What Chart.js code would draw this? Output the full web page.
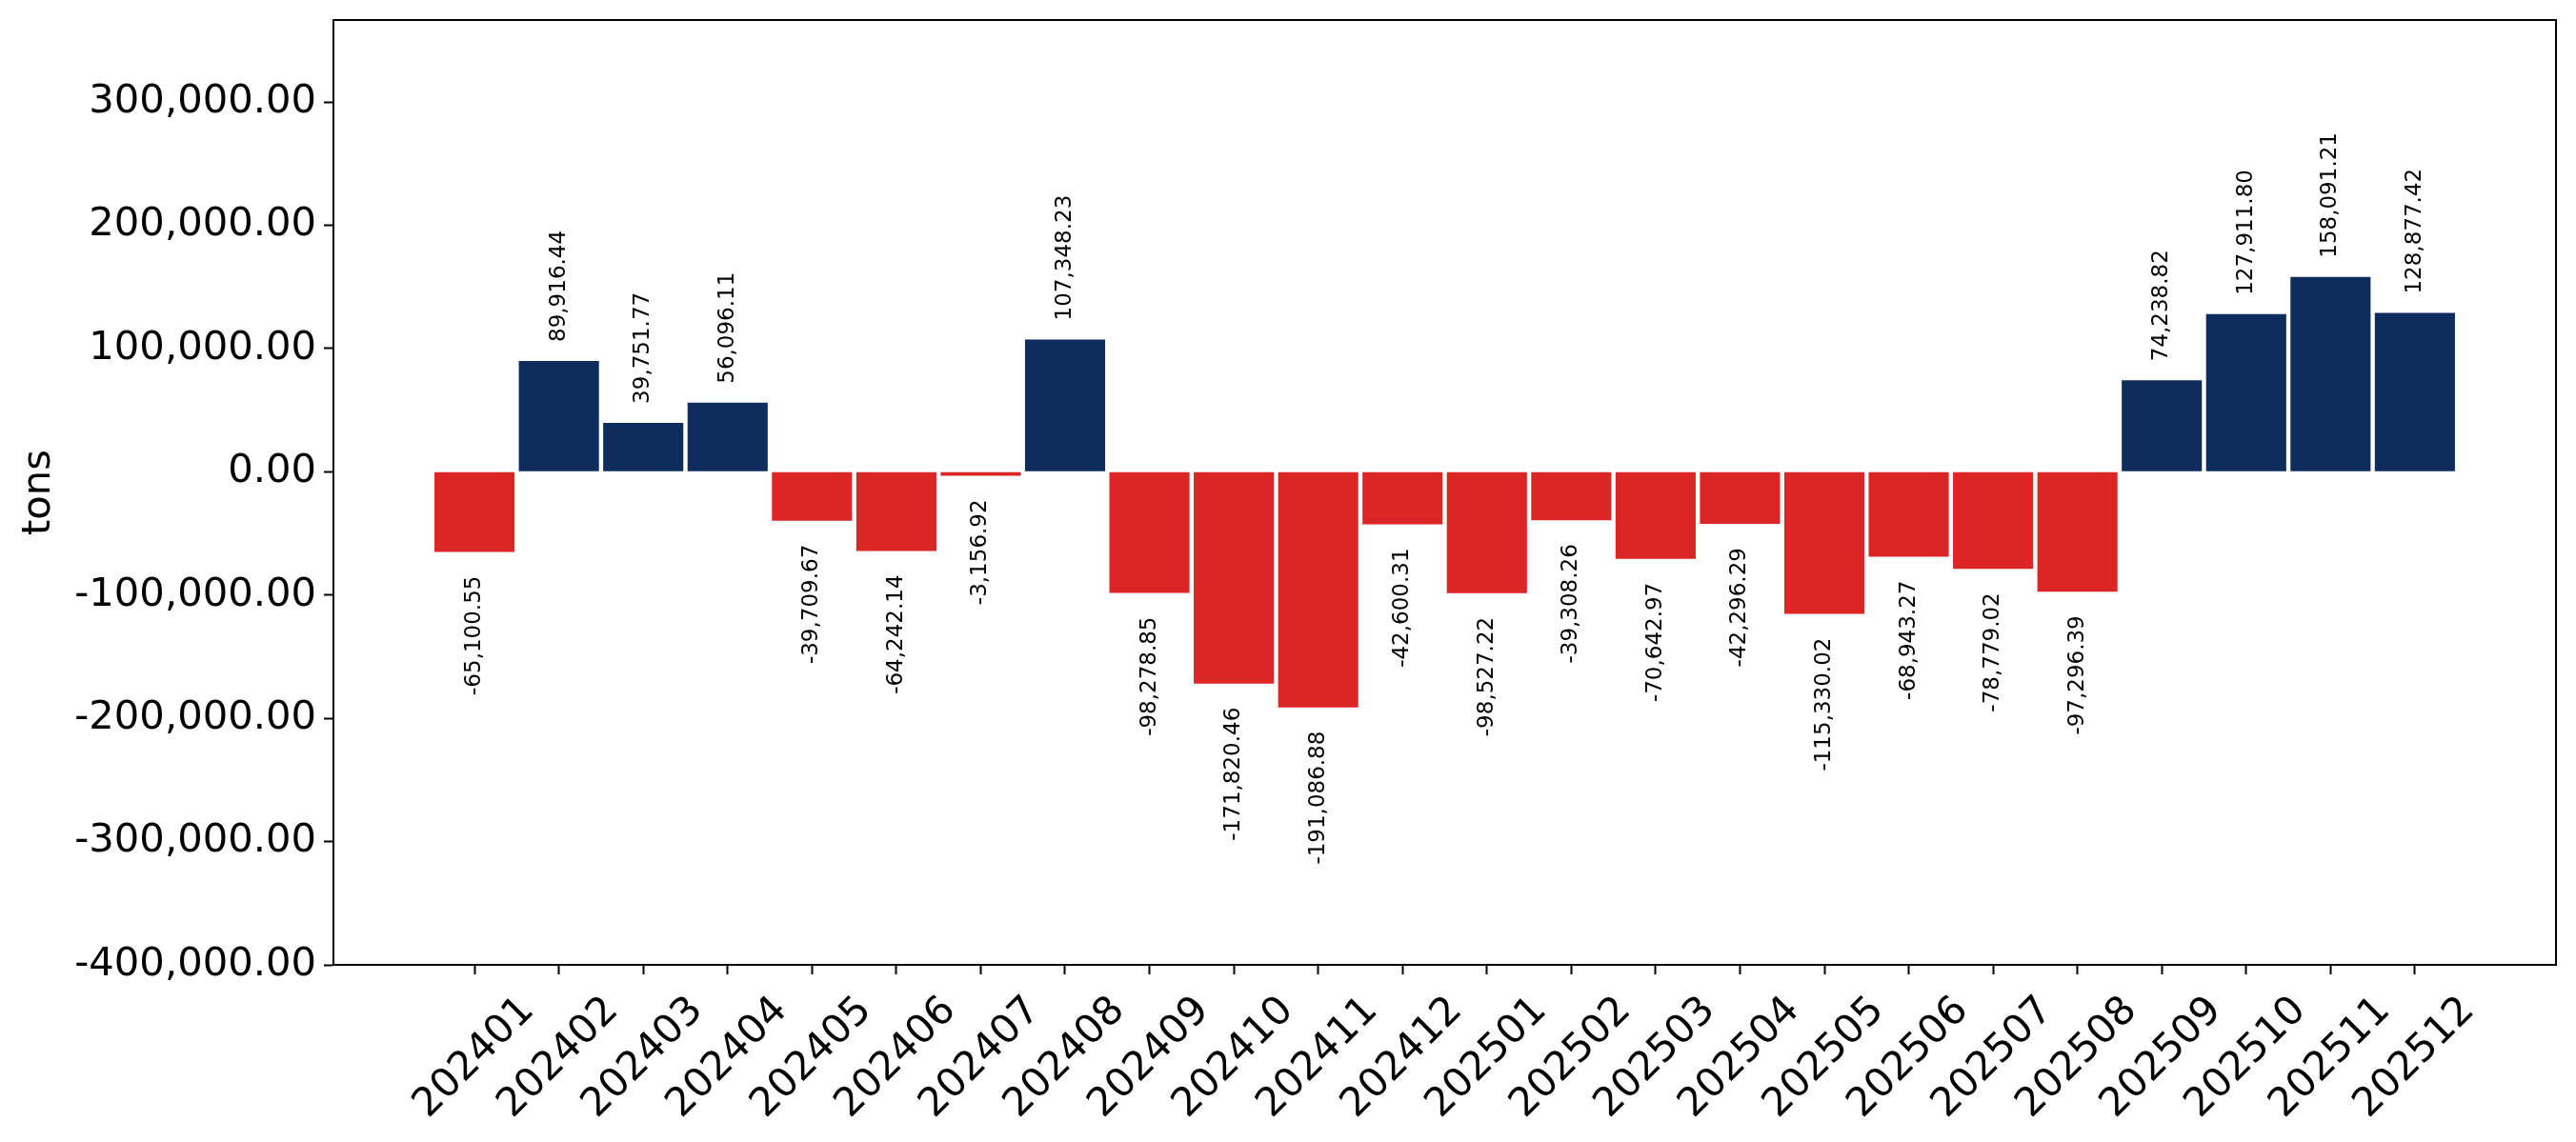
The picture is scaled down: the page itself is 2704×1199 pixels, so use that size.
<!DOCTYPE html>
<html>
<head>
<meta charset="utf-8">
<title>Monthly net tons</title>
<script src="https://cdn.jsdelivr.net/npm/chart.js@4/dist/chart.umd.min.js"></script>
<style>
  html, body { margin: 0; padding: 0; background: #fff; }
  canvas { display: block; }
</style>
</head>
<body>
<canvas id="netChart" width="2704" height="1199"></canvas>
<script>
// data
const months = ['202401', '202402', '202403', '202404', '202405', '202406', '202407', '202408',
    '202409', '202410', '202411', '202412', '202501', '202502', '202503', '202504',
    '202505', '202506', '202507', '202508', '202509', '202510', '202511', '202512'];
const netValues = [-65100.55, 89916.44, 39751.77, 56096.11, -39709.67, -64242.14, -3156.92, 107348.23,
    -98278.85, -171820.46, -191086.88, -42600.31, -98527.22, -39308.26, -70642.97, -42296.29,
    -115330.02, -68943.27, -78779.02, -97296.39, 74238.82, 127911.80, 158091.21, 128877.42];
const yTickValues = [-400000, -300000, -200000, -100000, 0, 100000, 200000, 300000];
const yLimits = [-400000, 366500];
const yTitle = 'tons';

const FONT = 'DejaVu Sans';
const POS_COLOR = '#0f2d5c';
const NEG_COLOR = '#dc2626';

function fmt(v) {
    return v.toLocaleString('en-US', { minimumFractionDigits: 2, maximumFractionDigits: 2 });
}

// matplotlib style margins around bars of width 0.95
const barWidth = 0.95;
const xPad = barWidth / 2 + 0.05 * (months.length - 1 + barWidth);

// value labels, rotated, above/below each bar
const valueLabels = {
    id: 'valueLabels',
    afterDatasetsDraw(chart) {
        const ctx = chart.ctx;
        const meta = chart.getDatasetMeta(0);
        ctx.save();
        ctx.font = '23px "' + FONT + '"';
        ctx.fillStyle = '#000';
        ctx.textBaseline = 'middle';
        meta.data.forEach(function(bar, i) {
            const v = netValues[i];
            ctx.save();
            if (v >= 0) {
                ctx.translate(bar.x, bar.y - 20);
                ctx.rotate(-Math.PI / 2);
                ctx.textAlign = 'left';
            } else {
                ctx.translate(bar.x, bar.y + 25);
                ctx.rotate(-Math.PI / 2);
                ctx.textAlign = 'right';
            }
            ctx.fillText(fmt(v), 0, 0);
            ctx.restore();
        });
        ctx.restore();
    }
};

// frame, 45deg x tick labels centred under the tick, y title
const axisDecor = {
    id: 'axisDecor',
    afterDraw(chart) {
        const ctx = chart.ctx;
        const area = chart.chartArea;
        const xScale = chart.scales.x;
        ctx.save();
        ctx.strokeStyle = '#000';
        ctx.lineWidth = 2;
        ctx.strokeRect(area.left, area.top, area.right - area.left, area.bottom - area.top);

        const fs = 41.7;
        ctx.font = fs + 'px "' + FONT + '"';
        ctx.fillStyle = '#000';
        ctx.textAlign = 'center';
        ctx.textBaseline = 'middle';
        months.forEach(function(m, i) {
            const x = xScale.getPixelForValue(i);
            const w = ctx.measureText(m).width;
            const half = (w + fs * 1.05) * Math.SQRT1_2 / 2;
            ctx.save();
            ctx.translate(x, area.bottom + 26 + half);
            ctx.rotate(-Math.PI / 4);
            ctx.fillText(m, 0, 0);
            ctx.restore();
        });

        ctx.save();
        ctx.translate(41, (area.top + area.bottom) / 2);
        ctx.rotate(-Math.PI / 2);
        ctx.fillText(yTitle, 0, 0);
        ctx.restore();
        ctx.restore();
    }
};

new Chart(document.getElementById('netChart'), {
    type: 'bar',
    data: {
        datasets: [{
            data: netValues.map((v, i) => ({ x: i, y: v })),
            backgroundColor: netValues.map(v => v >= 0 ? POS_COLOR : NEG_COLOR),
            borderWidth: 0,
            barPercentage: barWidth,
            categoryPercentage: 1.0
        }]
    },
    options: {
        responsive: false,
        devicePixelRatio: 1,
        animation: false,
        layout: { padding: { top: 21, right: 21, left: 0, bottom: 0 } },
        plugins: {
            legend: { display: false },
            tooltip: { enabled: false }
        },
        scales: {
            x: {
                type: 'linear',
                offset: false,
                min: -xPad,
                max: months.length - 1 + xPad,
                afterBuildTicks(scale) {
                    scale.ticks = months.map((m, i) => ({ value: i }));
                },
                afterFit(scale) {
                    scale.height = 186;
                    scale.paddingLeft = 0;
                    scale.paddingRight = 0;
                },
                grid: {
                    offset: false,
                    drawOnChartArea: false,
                    drawTicks: true,
                    tickLength: 10,
                    tickWidth: 2,
                    tickColor: '#000'
                },
                border: { display: true, color: '#000', width: 2 },
                ticks: { display: false }
            },
            y: {
                min: yLimits[0],
                max: yLimits[1],
                afterBuildTicks(scale) {
                    scale.ticks = yTickValues.map(v => ({ value: v }));
                },
                afterFit(scale) {
                    scale.width = 350;
                    scale.paddingTop = 0;
                    scale.paddingBottom = 0;
                },
                grid: {
                    drawOnChartArea: false,
                    drawTicks: true,
                    tickLength: 10,
                    tickWidth: 2,
                    tickColor: '#000'
                },
                border: { display: true, color: '#000', width: 2 },
                ticks: {
                    color: '#000',
                    padding: 8,
                    font: { family: FONT, size: 41.7 },
                    callback: v => fmt(v)
                }
            }
        }
    },
    plugins: [valueLabels, axisDecor]
});
</script>
</body>
</html>
